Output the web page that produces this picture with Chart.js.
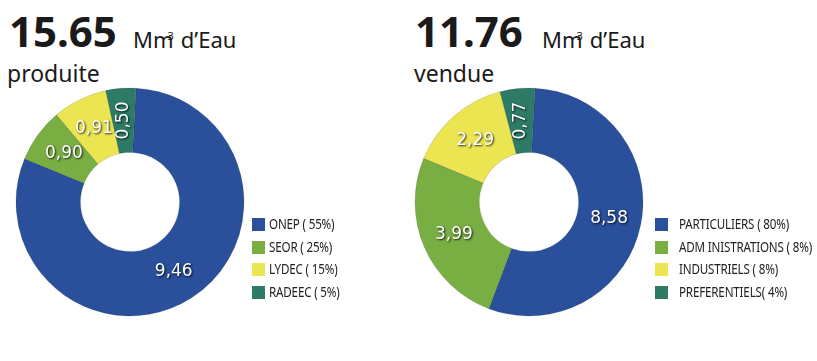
<!DOCTYPE html>
<html>
<head>
<meta charset="utf-8">
<script src="https://cdn.jsdelivr.net/npm/chart.js@4.4.1/dist/chart.umd.min.js"></script>
<style>
  html, body { margin: 0; padding: 0; background: #fff; }
  body { width: 817px; height: 361px; position: relative; overflow: hidden; font-family: "Noto Sans", sans-serif; color: #1a1a1a; }
  .big { position: absolute; font-weight: 700; font-size: 42px; line-height: 42px; color: #1a1a1a; }
  .unit { position: absolute; font-size: 22px; line-height: 22px; color: #1a1a1a; white-space: nowrap; }
  .unit sup { font-size: 11px; position: relative; top: -3px; margin-left: -6px; margin-right: 7px; vertical-align: top; }
  .sub { position: absolute; font-size: 23px; line-height: 23px; color: #1a1a1a; }
  canvas { position: absolute; }
  .legend { position: absolute; font-size: 13.5px; color: #222; }
  .legend .row { position: absolute; left: 0; white-space: nowrap; height: 14px; }
  .legend .box { position: absolute; left: 0; top: 0; width: 13px; height: 13px; }
  .legend .txt { position: absolute; top: -3px; line-height: 18px; letter-spacing: -0.2px; transform: scaleX(0.86); transform-origin: 0 0; }
</style>
</head>
<body>
<div class="big" style="left:9px; top:10px;">15.65</div>
<div class="unit" style="left:133px; top:28px;">Mm<sup>3</sup>d’Eau</div>
<div class="sub" style="left:7px; top:62px;">produite</div>

<div class="big" style="left:415px; top:10px;">11.76</div>
<div class="unit" style="left:542px; top:28px;">Mm<sup>3</sup>d’Eau</div>
<div class="sub" style="left:414px; top:62px;">vendue</div>

<canvas id="c1" width="260" height="260" style="left:0px; top:72px;"></canvas>
<canvas id="c2" width="260" height="260" style="left:399px; top:72px;"></canvas>
<div class="legend" id="lg1" style="left:252px; top:218px;"></div>
<div class="legend" id="lg2" style="left:655px; top:218px;"></div>

<script>
// ---- data ----
const producedLabels = ['ONEP ( 55%)', 'SEOR ( 25%)', 'LYDEC ( 15%)', 'RADEEC ( 5%)'];
const producedValues = [9.46, 0.90, 0.91, 0.50];
const soldLabels = ['PARTICULIERS  ( 80%)', 'ADM INISTRATIONS ( 8%)', 'INDUSTRIELS ( 8%)', 'PREFERENTIELS( 4%)'];
const soldValues = [8.58, 3.99, 2.29, 0.77];

const sliceColors = ['#2a4f9b', '#79ae43', '#ece552', '#2d7b67'];

const valueLabels = {
  id: 'valueLabels',
  afterDatasetsDraw(chart) {
    const ctx = chart.ctx;
    const meta = chart.getDatasetMeta(0);
    const data = chart.data.datasets[0].data;
    meta.data.forEach((arc, i) => {
      const p = arc.tooltipPosition();
      const txt = data[i].toFixed(2).replace('.', ',');
      ctx.save();
      ctx.translate(p.x, p.y);
      if (i === data.length - 1) ctx.rotate(-Math.PI / 2);
      ctx.font = '17px "DejaVu Sans"';
      ctx.textAlign = 'center';
      ctx.textBaseline = 'middle';
      ctx.shadowColor = 'rgba(0,0,0,0.85)';
      ctx.shadowOffsetX = 1;
      ctx.shadowOffsetY = 1;
      ctx.shadowBlur = 2;
      ctx.fillStyle = '#ffffff';
      ctx.fillText(txt, 0, 0);
      ctx.restore();
    });
  }
};

function makeChart(id, labels, values) {
  return new Chart(document.getElementById(id), {
    type: 'doughnut',
    data: {
      labels: labels,
      datasets: [{
        data: values,
        backgroundColor: sliceColors,
        borderColor: 'rgba(0,0,0,0.12)',
        borderWidth: 1
      }]
    },
    options: {
      responsive: false,
      animation: false,
      rotation: 3,
      radius: 114,
      cutout: '43.5%',
      plugins: { legend: { display: false }, tooltip: { enabled: false } },
      events: []
    },
    plugins: [valueLabels]
  });
}

function makeLegend(id, labels) {
  const el = document.getElementById(id);
  const gap = 22.5;
  labels.forEach((lab, i) => {
    const row = document.createElement('div');
    row.className = 'row';
    row.style.top = (i * gap) + 'px';
    const box = document.createElement('div');
    box.className = 'box';
    box.style.background = sliceColors[i];
    const t = document.createElement('div');
    t.className = 'txt';
    t.style.left = (id === 'lg1' ? 17 : 24) + 'px';
    t.textContent = lab;
    row.appendChild(box);
    row.appendChild(t);
    el.appendChild(row);
  });
}

makeChart('c1', producedLabels, producedValues);
makeChart('c2', soldLabels, soldValues);
makeLegend('lg1', producedLabels);
makeLegend('lg2', soldLabels);
</script>
</body>
</html>
